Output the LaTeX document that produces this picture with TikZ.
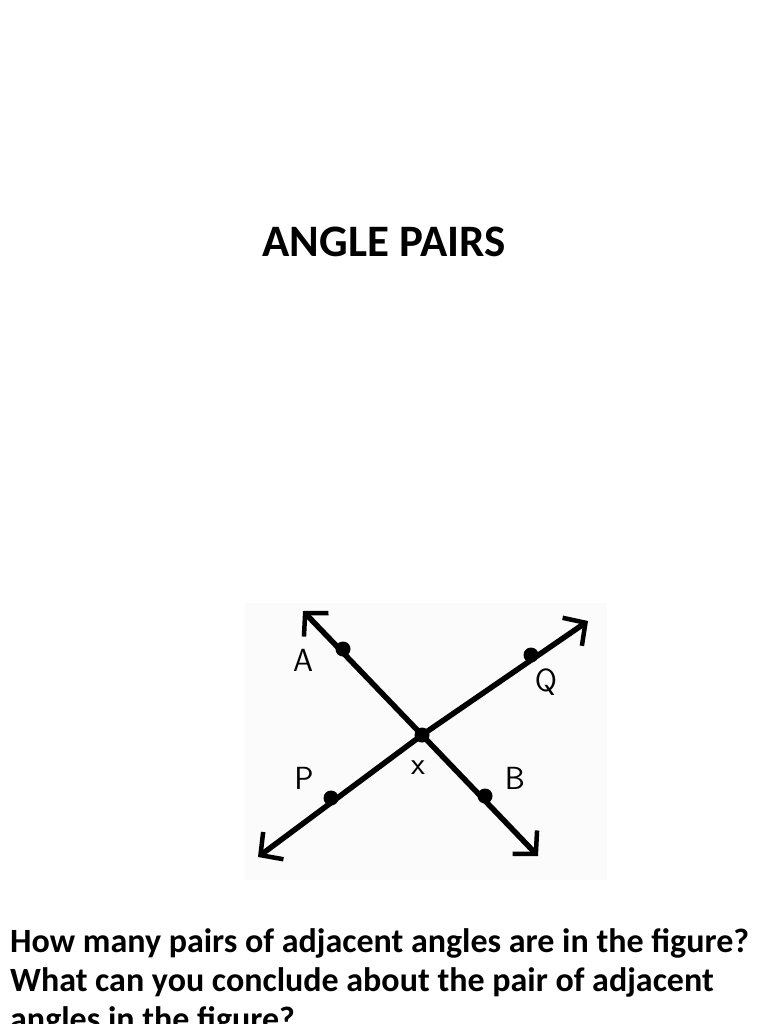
\documentclass[tikz,border=0pt]{standalone}
\usepackage{fontspec}
\setmainfont{Carlito}
\usetikzlibrary{arrows.meta}
\begin{document}
\begin{tikzpicture}[x=1pt,y=-1pt,
  ray/.style={line width=5.5pt,-{Straight Barb[length=16pt,width=34pt,line width=4.5pt]}},
  pt/.style={circle,fill=black,inner sep=0pt,minimum size=15pt},
  lbl/.style={font=\sffamily\fontsize{32}{32}\selectfont},
  body/.style={font=\bfseries\fontsize{34}{48}\selectfont,anchor=west,inner sep=0pt}]
\clip (0,0) rectangle (768,1024);
\useasboundingbox (0,0) rectangle (768,1024);
\fill[white] (0,0) rectangle (768,1024);
\fill[black!1.5] (245,603) rectangle (607,880);
\node[font=\bfseries\fontsize{45}{45}\selectfont] (title) at (384,242) {ANGLE PAIRS};
\coordinate (X) at (422,735);
\coordinate (Aend) at (303,611);
\coordinate (Bend) at (538,856);
\coordinate (Pend) at (258,857);
\coordinate (Qend) at (588,621);
\draw[ray] (X) -- (Aend);
\draw[ray] (X) -- (Bend);
\draw[ray] (X) -- (Pend);
\draw[ray] (X) -- (Qend);
\node[pt] (x) at (X) {};
\node[pt] (a) at (343,649) {};
\node[pt] (q) at (531,655) {};
\node[pt] (p) at (331,798) {};
\node[pt] (b) at (485,796) {};
\node[lbl] (la) at (303,660) {A};
\node[lbl] (lq) at (546,682) {Q};
\node[lbl] (lp) at (304,778) {P};
\node[lbl] (lx) at (418,768) {x};
\node[lbl] (lb) at (515,778) {B};
\node[body] (l1) at (10,943) {How many pairs of adjacent angles are in the figure?};
\node[body] (l2) at (10,982) {What can you conclude about the pair of adjacent};
\node[body] (l3) at (10,1021) {angles in the figure?};
\end{tikzpicture}
\end{document}
